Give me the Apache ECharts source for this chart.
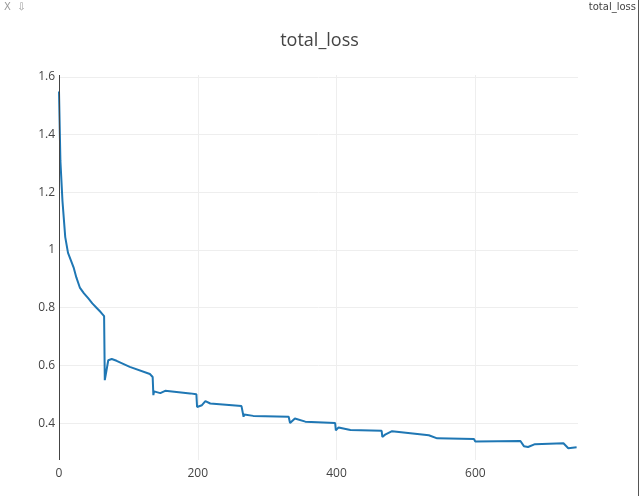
<!DOCTYPE html>
<html>
<head>
<meta charset="utf-8">
<script src="https://cdn.jsdelivr.net/npm/echarts@6/dist/echarts.min.js"></script>
<style>html,body{margin:0;padding:0;background:#fff}#chart{width:639px;height:496px}</style>
</head>
<body>
<div id="chart"></div>
<script>
// loss curve
var steps = [0, 2, 5, 9, 13, 17, 21, 25, 30, 36, 42, 48, 54, 60, 65, 66, 71, 76, 83, 102, 131, 135, 136, 137, 146, 153, 189, 198, 199, 206, 211, 218, 263, 265, 266, 267, 280, 331, 333, 340, 355, 398, 399, 403, 420, 465, 466, 470, 480, 533, 545, 598, 600, 665, 670, 676, 686, 727, 734, 746];
var losses = [1.55, 1.31, 1.17, 1.045, 0.99, 0.965, 0.94, 0.905, 0.87, 0.85, 0.833, 0.815, 0.80, 0.785, 0.771, 0.549, 0.618, 0.622, 0.616, 0.595, 0.57, 0.56, 0.497, 0.51, 0.504, 0.512, 0.503, 0.50, 0.456, 0.462, 0.476, 0.468, 0.459, 0.455, 0.422, 0.43, 0.425, 0.422, 0.40, 0.416, 0.405, 0.40, 0.375, 0.385, 0.376, 0.373, 0.352, 0.36, 0.372, 0.358, 0.347, 0.345, 0.336, 0.338, 0.32, 0.317, 0.327, 0.33, 0.313, 0.316];
var xTicks = [0, 200, 400, 600];
var yTicks = [0.4, 0.6, 0.8, 1.0, 1.2, 1.4, 1.6];

var chart = echarts.init(document.getElementById('chart'));
chart.setOption({
    animation: false,
    title: {
        text: 'total_loss',
        left: 'center',
        top: 27,
        textStyle: { fontFamily: 'Open Sans', fontSize: 18, fontWeight: 'normal', color: '#444' }
    },
    graphic: [
        { type: 'text', left: 4, top: 2, style: { text: 'X  ⇩', fontSize: 10, fill: '#999', fontFamily: 'DejaVu Sans' } },
        { type: 'text', right: 3, top: 2, style: { text: 'total_loss', fontSize: 10, fill: '#444', fontFamily: 'DejaVu Sans' } },
        { type: 'rect', right: 0, top: 0, shape: { width: 1, height: 496 }, style: { fill: '#555' } }
    ],
    grid: { left: 59, right: 61, top: 75, bottom: 36 },
    xAxis: {
        type: 'value', min: 0, max: 748,
        axisLine: { show: false },
        axisTick: { show: false, customValues: xTicks },
        axisLabel: { customValues: xTicks, color: '#444', fontSize: 12, fontFamily: 'Open Sans' },
        splitLine: { lineStyle: { color: '#eee' } }
    },
    yAxis: {
        type: 'value', min: 0.272, max: 1.607,
        axisLine: { show: false },
        axisTick: { show: false, customValues: yTicks },
        axisLabel: { customValues: yTicks, color: '#444', fontSize: 12, fontFamily: 'Open Sans', margin: 4,
            formatter: function (v) { return v === 1 ? '1' : String(Math.round(v * 10) / 10); } },
        splitLine: { lineStyle: { color: '#eee' } }
    },
    series: [{
        type: 'line',
        data: steps.map(function (s, i) { return [s, losses[i]]; }),
        showSymbol: false,
        lineStyle: { color: '#1f77b4', width: 2 },
        markLine: {
            silent: true, symbol: 'none', label: { show: false },
            lineStyle: { color: '#444', type: 'solid', width: 1 },
            data: [{ xAxis: 0 }]
        }
    }]
});
</script>
</body>
</html>
